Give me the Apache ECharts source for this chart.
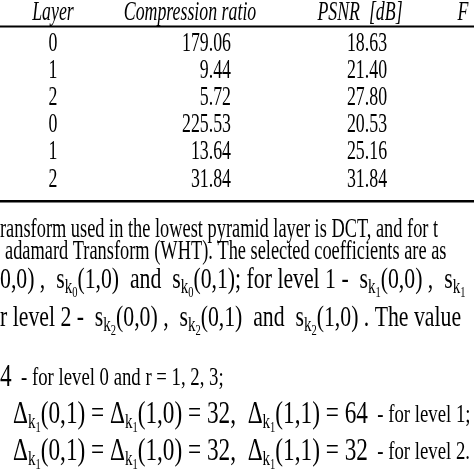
<!DOCTYPE html><html><head><meta charset="utf-8">
<script src="https://cdn.jsdelivr.net/npm/echarts@6/dist/echarts.min.js"></script>
<style>html,body{margin:0;background:#fff}#c{width:474px;height:474px}</style></head><body><div id="c"></div>
<script>
const headers = ['Layer','Compression ratio','PSNR  [dB]','F'];
const layers = ['0','1','2','0','1','2'];
const compression = ['179.06','9.44','5.72','225.53','13.64','31.84'];
const psnr = ['18.63','21.40','27.80','20.53','25.16','31.84'];
const paragraph = [
 'ransform used in the lowest pyramid layer is DCT, and for t',
 'adamard Transform (WHT). The selected coefficients are as',
 '{n|0,0) ,  s}{s|k}{ss|0}{n|(1,0)  and  s}{s|k}{ss|0}{n|(0,1); for level 1 -  s}{s|k}{ss|1}{n|(0,0) ,  s}{s|k}{ss|1}',
 '{n|r level 2 -  s}{s|k}{ss|2}{n|(0,0) ,  s}{s|k}{ss|2}{n|(0,1)  and  s}{s|k}{ss|2}{n|(1,0) . The value}',
 '{b|4}{m|  - for level 0 and r = 1, 2, 3;}',
 '{b|Δ}{s|k}{ss|1}{b|(0,1) = Δ}{s|k}{ss|1}{b|(1,0) = 32,  Δ}{s|k}{ss|1}{b|(1,1) = 64}{m|  - for level 1;}',
 '{b|Δ}{s|k}{ss|1}{b|(0,1) = Δ}{s|k}{ss|1}{b|(1,0) = 32,  Δ}{s|k}{ss|1}{b|(1,1) = 32}{m|  - for level 2.}'
];
const F='Liberation Serif';
const rowY=[44,71,98,125,152,180];
const g=[];
function t(x,y,text,o){g.push({type:'text',x:x,y:y,scaleX:o.sx||0.66,style:Object.assign({text:text,fill:'#000',font:(o.it?'italic ':'')+(o.fs||27)+'px "'+F+'"',align:o.al||'left',verticalAlign:'middle'},o.st||{})});}
t(53,13,headers[0],{it:1,al:'center'});
t(190,13,headers[1],{it:1,al:'center'});
t(360,13,headers[2],{it:1,al:'center'});
t(463,13,headers[3],{it:1,al:'center'});
layers.forEach((v,i)=>{t(53,rowY[i],v,{al:'center'});t(231,rowY[i],compression[i],{al:'right'});t(367,rowY[i],psnr[i],{al:'center'});});
g.push({type:'rect',shape:{x:0,y:25.5,width:474,height:2},style:{fill:'#000'}});
g.push({type:'rect',shape:{x:0,y:200,width:474,height:2.5},style:{fill:'#000'}});
const rich={n:{font:'29px "'+F+'"',fill:'#000'},s:{font:'20px "'+F+'"',fill:'#000',padding:[16,0,0,0]},ss:{font:'14px "'+F+'"',fill:'#000',padding:[26,0,0,0]},
 b:{font:'31px "'+F+'"',fill:'#000'},m:{font:'25px "'+F+'"',fill:'#000'}};
const pY=[230,252,280,318,378,415,452], pX=[0,5,0,0,0,13,13];
paragraph.forEach((p,i)=>{const o={sx:i<2?0.68:0.75};if(i>=2)o.st={rich:rich};t(pX[i],pY[i],p,o);});
const c=echarts.init(document.getElementById('c'),null,{renderer:'canvas'});
c.setOption({animation:false,graphic:g});
</script></body></html>
